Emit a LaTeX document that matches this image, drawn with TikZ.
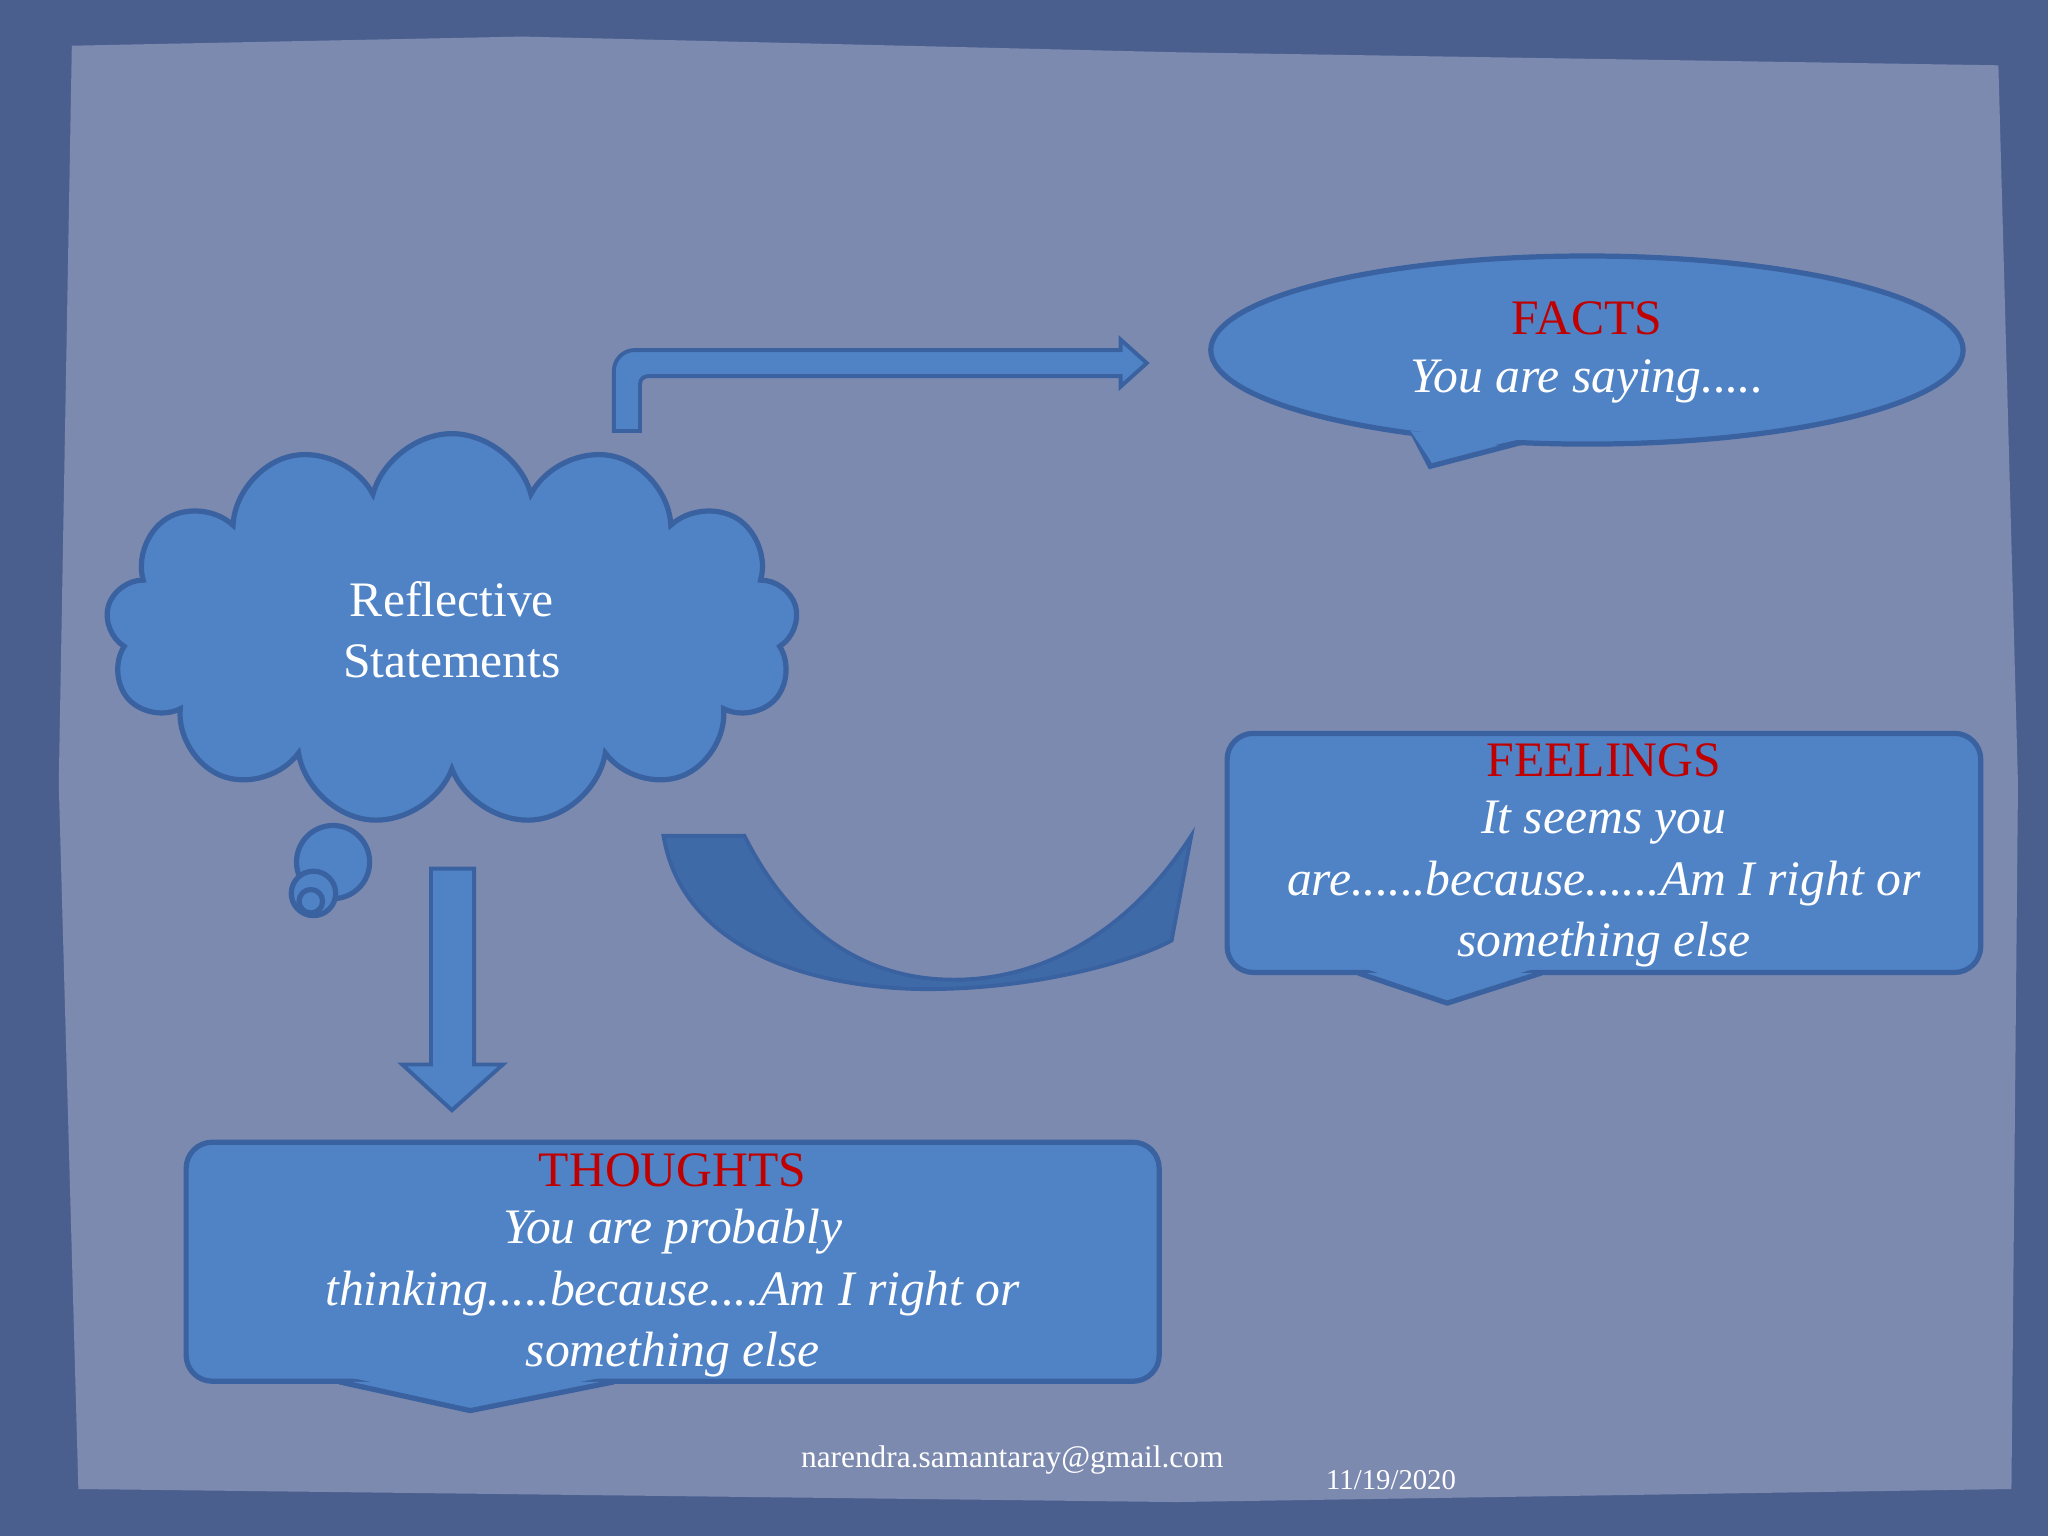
\documentclass[tikz,border=0pt]{standalone}
\usepackage{fontspec}
\setmainfont{Liberation Serif}
\usetikzlibrary{shapes.symbols,shapes.geometric}
\definecolor{frame}{HTML}{4B5F8E}
\definecolor{paper}{HTML}{7D8AB0}
\definecolor{shp}{HTML}{5083C6}
\definecolor{edge}{HTML}{3A62A0}
\definecolor{dark}{HTML}{3F6AA8}
\definecolor{redt}{HTML}{C00000}
\tikzset{bluebox/.style={fill=shp,draw=edge,line width=4pt},
 txt/.style={text=white,font=\fontsize{38}{47}\selectfont,align=center},
 ttl/.style={text=redt,font=\fontsize{38}{47}\selectfont}}
\begin{document}
\begin{tikzpicture}[x=1pt,y=-1pt]
\fill[frame] (0,0) rectangle (1568,1176);
\fill[paper] (55,35) -- (400,28) -- (900,40) -- (1530,50) -- (1545,600) -- (1540,1140) -- (900,1150) -- (60,1140) -- (45,600) -- cycle;
% cloud
\node[cloud,cloud puffs=13,aspect=1.7,bluebox,minimum width=530pt,minimum height=300pt,txt] (cl) at (346,482) {Reflective\\Statements};
\draw[bluebox] (255,660) circle (28);
\draw[bluebox] (240,684) circle (17);
\draw[bluebox] (238,690) circle (9);
% bent arrow
\draw[bluebox,line width=3pt,line join=miter] (470,330)--(470,284) to[out=90,in=180] (486,268) -- (858,268)--(858,260)--(878,278)--(858,296)--(858,288)--(496,288) to[out=180,in=90] (490,294)--(490,330)--cycle;
% facts
\draw[bluebox] (1083,334) -- (1095,357) -- (1160,340) -- cycle;
\node[ellipse,bluebox,minimum width=576pt,minimum height=144pt] (facts) at (1215,268) {};
\fill[shp] (1080,330) -- (1095,352) -- (1165,336) -- cycle;
\node[ttl] at (1215,244) {FACTS};
\node[txt,font=\fontsize{38}{47}\selectfont\itshape] at (1215,292) {You are saying.....};
% feelings
\node[rectangle,rounded corners=20pt,bluebox,minimum width=577pt,minimum height=183pt] (feel) at (1228,653) {};
\draw[bluebox,line join=round] (1040,745) -- (1108,768) -- (1180,745);
\fill[shp] (1040,740) -- (1108,762) -- (1180,740) -- cycle;
\node[ttl] at (1228,582) {FEELINGS};
\node[txt,font=\fontsize{38}{47}\selectfont\itshape] at (1228,677) {It seems you\\are......because......Am I right or\\something else};
% thoughts
\node[rectangle,rounded corners=20pt,bluebox,minimum width=745pt,minimum height=183pt] (th) at (515,966) {};
\draw[bluebox,line join=round] (260,1058) -- (360,1080) -- (470,1058);
\fill[shp] (260,1053) -- (360,1074) -- (470,1053) -- cycle;
\node[ttl] at (515,896) {THOUGHTS};
\node[txt,font=\fontsize{38}{47}\selectfont\itshape] at (515,990) {You are probably\\thinking.....because....Am I right or\\something else};
% down arrow
\draw[bluebox,line width=3pt,line join=miter] (330,665)--(363,665)--(363,815)--(385,815)--(346,850)--(308,815)--(330,815)--cycle;
% curved arrow
\draw[fill=dark,draw=edge,line width=3pt] (508,640) .. controls (525,740) and (650,760) .. (725,757) .. controls (800,755) and (870,735) .. (897,720) -- (912,640) .. controls (860,720) and (790,752) .. (725,750) .. controls (650,748) and (600,700) .. (570,640) -- cycle;
% footer
\node[text=white,font=\fontsize{24}{28}\selectfont] (em) at (775,1118) {narendra.samantaray@gmail.com};
\node[text=white,font=\fontsize{22}{26}\selectfont] (dt) at (1065,1133) {11/19/2020};
\end{tikzpicture}
\end{document}
